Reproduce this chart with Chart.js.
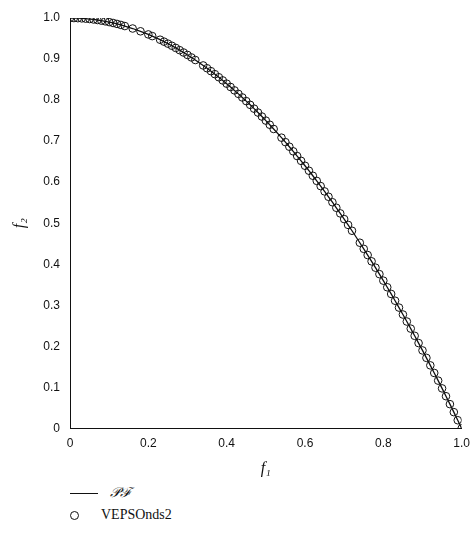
<!DOCTYPE html>
<html>
<head>
<meta charset="utf-8">
<script src="https://cdn.jsdelivr.net/npm/chart.js@4.4.0/dist/chart.umd.min.js"></script>
<style>
  body { margin: 0; background: #fff; font-family: "Liberation Serif", serif; }
  #wrap { width: 474px; height: 482px; position: relative; }
  #legend { margin-left: 70px; font-size: 14px; color: #111; }
  .row { display: flex; align-items: center; height: 22px; }
  .ln { width: 28px; border-top: 1.5px solid #111; margin-right: 12px; }
  .cir { width: 7px; height: 7px; border: 1.3px solid #111; border-radius: 50%; margin: 0 22px 0 0; }
</style>
</head>
<body>
<div id="wrap"><canvas id="c"></canvas></div>
<div id="legend">
  <div class="row"><span class="ln"></span><span style="font-style:italic">𝒫ℱ</span></div>
  <div class="row"><span class="cir"></span><span>VEPSOnds2</span></div>
</div>
<script>
const f1 = [0,0.01,0.02,0.03,0.04,0.05,0.06,0.07,0.08,0.09,0.10,0.11,0.12,0.13,0.14,0.16,0.18,0.20,0.21,0.23,0.24,0.25,0.26,0.27,0.28,0.29,0.30,0.31,0.32,0.34,0.35,0.36,0.37,0.38,0.39,0.40,0.41,0.42,0.43,0.44,0.45,0.46,0.47,0.48,0.49,0.50,0.51,0.52,0.54,0.55,0.56,0.57,0.58,0.59,0.60,0.61,0.62,0.63,0.64,0.65,0.66,0.67,0.68,0.69,0.70,0.71,0.72,0.74,0.75,0.76,0.77,0.78,0.79,0.80,0.81,0.82,0.83,0.84,0.85,0.86,0.87,0.88,0.89,0.90,0.91,0.92,0.93,0.94,0.95,0.96,0.97,0.98,0.99,1.0];
const f2 = [1,0.9999,0.9996,0.9991,0.9984,0.9975,0.9964,0.9951,0.9936,0.9919,0.99,0.9879,0.9856,0.9831,0.9804,0.9744,0.9676,0.96,0.9559,0.9471,0.9424,0.9375,0.9324,0.9271,0.9216,0.9159,0.91,0.9039,0.8976,0.8844,0.8775,0.8704,0.8631,0.8556,0.8479,0.84,0.8319,0.8236,0.8151,0.8064,0.7975,0.7884,0.7791,0.7696,0.7599,0.75,0.7399,0.7296,0.7084,0.6975,0.6864,0.6751,0.6636,0.6519,0.64,0.6279,0.6156,0.6031,0.5904,0.5775,0.5644,0.5511,0.5376,0.5239,0.51,0.4959,0.4816,0.4524,0.4375,0.4224,0.4071,0.3916,0.3759,0.36,0.3439,0.3276,0.3111,0.2944,0.2775,0.2604,0.2431,0.2256,0.2079,0.19,0.1719,0.1536,0.1351,0.1164,0.0975,0.0784,0.0591,0.0396,0.0199,0];
const pts = f1.map((x, i) => ({ x, y: f2[i] }));

const tickFont = { family: 'Liberation Sans', size: 12 };
const titleFont = { family: 'Liberation Serif', size: 16, style: 'italic' };

new Chart(document.getElementById('c'), {
  type: 'scatter',
  data: {
    datasets: [
      { label: 'PF', data: pts, showLine: true, borderColor: '#111', borderWidth: 1.3, pointRadius: 0, order: 2 },
      { label: 'VEPSOnds2', data: pts, borderColor: '#111', borderWidth: 1, backgroundColor: 'rgba(255,255,255,0)', pointRadius: 3.8, order: 1 },
    ],
  },
  options: {
    responsive: true,
    maintainAspectRatio: false,
    animation: false,
    layout: { padding: { top: 18, right: 12, left: 6 } },
    plugins: { legend: false, tooltip: false },
    scales: {
      x: {
        type: 'linear', min: 0, max: 1,
        grid: { display: false, drawTicks: true, tickLength: 4, color: '#111' },
        border: { color: '#111', width: 1 },
        ticks: { stepSize: 0.2, color: '#111', font: tickFont, padding: 4 },
        title: { display: true, text: 'f₁', color: '#111', font: titleFont, padding: 4 },
      },
      y: {
        type: 'linear', min: 0, max: 1,
        grid: { display: false, drawTicks: true, tickLength: 4, color: '#111' },
        border: { color: '#111', width: 1 },
        ticks: { stepSize: 0.1, color: '#111', font: tickFont, padding: 6 },
        title: { display: true, text: 'f₂', color: '#111', font: titleFont },
        afterFit: (s) => { s.width = 64; },
      },
    },
  },
});
</script>
</body>
</html>
